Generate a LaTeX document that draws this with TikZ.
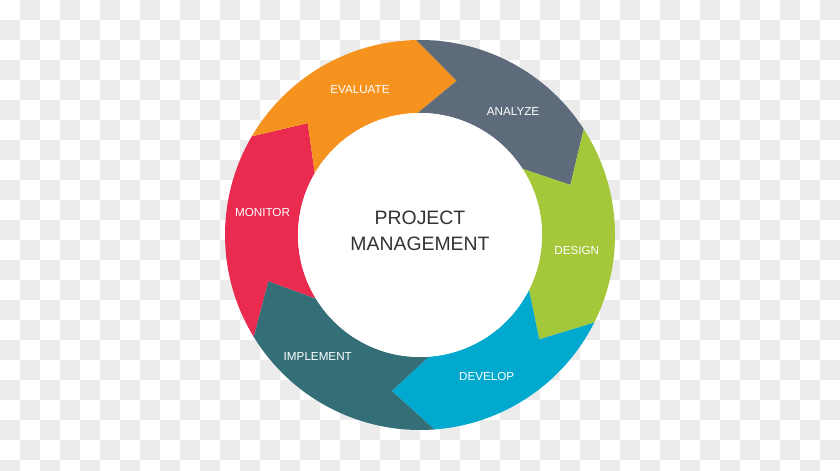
\documentclass[tikz,border=0pt]{standalone}
\usepackage{fontspec}
\setmainfont{Liberation Sans}
\usepackage{tikz}
\usetikzlibrary{positioning}
\definecolor{evalorange}{RGB}{246, 147, 30}
\definecolor{analyzegray}{RGB}{94, 107, 123}
\definecolor{designgreen}{RGB}{164, 200, 58}
\definecolor{developblue}{RGB}{0, 169, 205}
\definecolor{implteal}{RGB}{52, 111, 119}
\definecolor{monitorred}{RGB}{235, 42, 79}
\definecolor{checkgray}{RGB}{236, 236, 236}
\definecolor{darktext}{RGB}{51, 51, 51}
\tikzstyle{phase} = [
    text=white,
    inner sep=0pt,
    font=\fontsize{8.3pt}{10pt}\selectfont
]
\tikzstyle{title} = [
    text=darktext,
    align=center,
    inner sep=0pt,
    font=\fontsize{13.8pt}{18.4pt}\selectfont
]
% ring arrow: tail angle, head angle, colour
\newcommand{\ringarrow}[3]{%
    \fill[#3] (#1:195) arc[start angle=#1, end angle=#2, radius=195]
        -- ({#2-14.5}:158.5) -- (#2:122)
        arc[start angle=#2, end angle=#1, radius=122]
        -- ({#1-14.5}:158.5) -- cycle;
}

\begin{document}
\begin{tikzpicture}[x=0.025cm, y=0.025cm]
        \useasboundingbox (-420,-236) rectangle (420,235);
        \clip (-420,-236) rectangle (420,235);
        % checkered background
        \fill[white] (-420,-236) rectangle (420,235);
        \foreach \j in {0,...,23} {
            \foreach \i in {0,...,20} {
                \pgfmathtruncatemacro{\col}{2*\i+1-mod(\j,2)}
                \fill[checkgray] ({20*\col-420},{235-20*\j}) rectangle ++(20,-20);
            }
        }

        \ringarrow{211.5}{149.6}{monitorred}
        \ringarrow{149.6}{91.1}{evalorange}
        \ringarrow{91.1}{32.9}{analyzegray}
        \ringarrow{32.9}{-26.7}{designgreen}
        \ringarrow{-26.7}{-85.8}{developblue}
        \ringarrow{-85.8}{-148.5}{implteal}
        \fill[white] (0,0) circle[radius=122];

        \node[phase] (evaluate) at (112.5:157) {EVALUATE};
        \node[phase] (analyze) at (53.1:155) {ANALYZE};
        \node[phase] (design) at (-5.5:157.5) {DESIGN};
        \node[phase] (develop) at (-64.7:156) {DEVELOP};
        \node[phase] (implement) at (-130:159) {IMPLEMENT};
        \node[phase] (monitor) at (172:159) {MONITOR};
        \node[title] (pm) at (0,3.8) {PROJECT\\MANAGEMENT};
    \end{tikzpicture}
\end{document}
